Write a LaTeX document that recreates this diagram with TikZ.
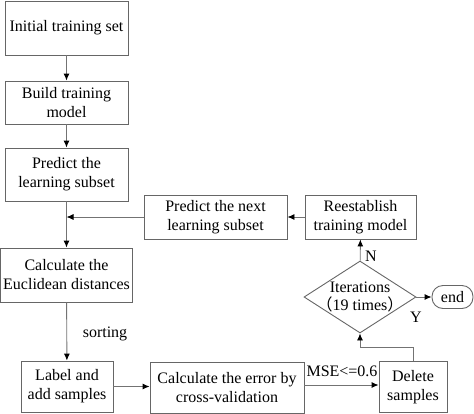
\documentclass[tikz,border=0pt]{standalone}
\usepackage{fontspec}
\setmainfont{Liberation Serif}
\newfontfamily\cjk{Noto Sans CJK SC}
\usetikzlibrary{shapes.geometric,arrows.meta}
\begin{document}
\begin{tikzpicture}[x=1pt,y=-1pt,
  every node/.style={font=\fontsize{16}{19}\selectfont},
  box/.style={draw=black!60,line width=0.9pt,rectangle,align=center,inner sep=0pt},
  conn/.style={draw=black!55,line width=0.9pt,-{Latex[length=7pt,width=6pt,color=black]}},
  lbl/.style={inner sep=1pt}]
\useasboundingbox (0,0) rectangle (474,413);
\node[box,minimum width=123pt,minimum height=54pt] (init) at (66.5,28) {Initial training set};
\node[box,minimum width=123pt,minimum height=43pt] (build) at (66.5,102.5) {Build training\\model};
\node[box,minimum width=123pt,minimum height=53pt] (pred) at (66.5,174.5) {Predict the\\learning subset};
\node[box,minimum width=132pt,minimum height=54pt] (eucl) at (66.5,275) {Calculate the\\Euclidean distances};
\node[box,minimum width=92pt,minimum height=51pt] (label) at (67,386.5) {Label and\\add samples};
\node[box,minimum width=154pt,minimum height=51pt] (calc) at (227,387.5) {Calculate the error by\\cross-validation};
\node[box,minimum width=68pt,minimum height=51pt] (del) at (413,387) {Delete\\samples};
\node[box,diamond,minimum width=112pt,minimum height=72pt] (iter) at (360,297) {};
\node[align=center] (itertxt) at (360,297) {Iterations\\[-1pt]{\cjk （}19 times{\cjk ）}};
\node[box,rounded corners=11pt,minimum width=41pt,minimum height=23pt] (end) at (452.5,297) {end};
\node[box,minimum width=111pt,minimum height=44pt] (reest) at (360.5,217) {Reestablish\\training model};
\node[box,minimum width=143pt,minimum height=44pt] (pnext) at (215.5,217) {Predict the next\\learning subset};
\coordinate (j) at (66.5,217);
\coordinate (k) at (413,347);
\coordinate (m) at (360,347);
\draw[conn] (init) -- (build);
\draw[conn] (build) -- (pred);
\draw[conn] (pred) -- (eucl);
\draw[conn] (pnext) -- (j);
\draw[conn] (reest) -- (pnext);
\draw[conn] (iter) -- (reest);
\draw[conn] (iter) -- (end);
\draw[conn] (del.north) -- (k) -- (m) -- (iter.south);
\draw[conn] (calc.east |- 0,385) -- (del.west |- 0,385);
\draw[conn] (label) -- (calc.west |- label);
\draw[conn] (eucl) -- (label);
\node[lbl] (sort) at (105,334) {sorting};
\node[lbl] (mse) at (342,371) {MSE<=0.6};
\node[lbl] (n) at (371,256) {N};
\node[lbl] (y) at (416,317) {Y};
\end{tikzpicture}
\end{document}
